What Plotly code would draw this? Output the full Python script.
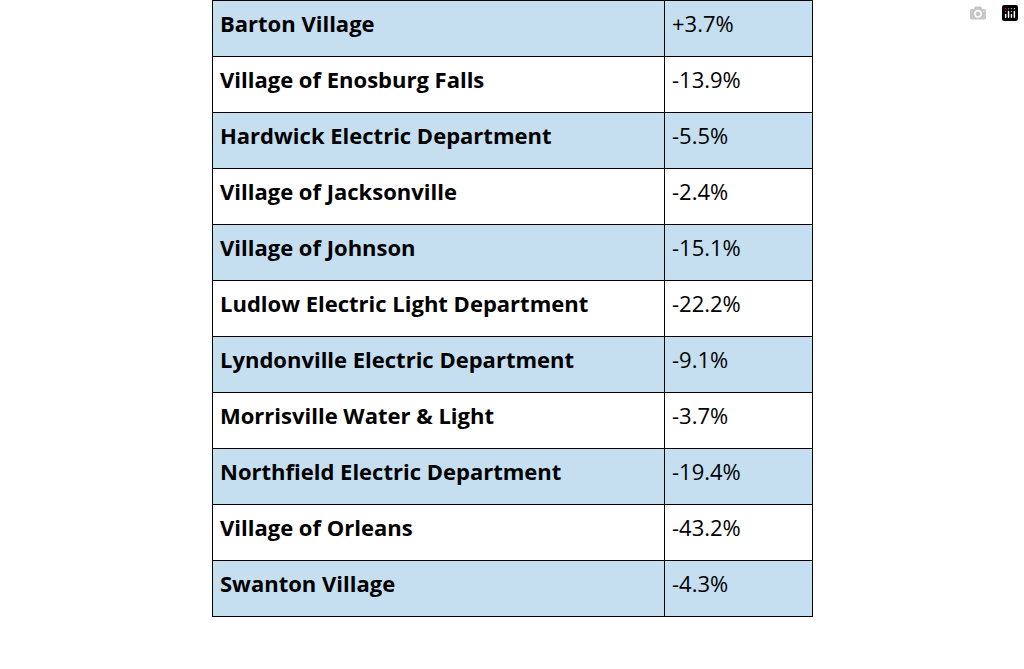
import plotly.graph_objects as go

names = ["Barton Village", "Village of Enosburg Falls", "Hardwick Electric Department",
         "Village of Jacksonville", "Village of Johnson", "Ludlow Electric Light Department",
         "Lyndonville Electric Department", "Morrisville Water & Light",
         "Northfield Electric Department", "Village of Orleans", "Swanton Village"]
changes = ["+3.7%", "-13.9%", "-5.5%", "-2.4%", "-15.1%", "-22.2%", "-9.1%", "-3.7%",
           "-19.4%", "-43.2%", "-4.3%"]

blue = "#c5dff1"
fills = [blue if i % 2 == 0 else "white" for i in range(1, len(names))]
fnt = dict(family="Open Sans", size=22, color="black")

fig = go.Figure(go.Table(
    columnwidth=[452, 148],
    domain=dict(x=[212/1024, 812/1024], y=[0, 1]),
    header=dict(values=["<b>" + names[0] + "</b>", "<span>" + changes[0] + "</span>"],
                fill_color=blue, line=dict(color="black", width=1),
                align="left", height=56, font=fnt),
    cells=dict(values=[["<b>" + n + "</b>" for n in names[1:]],
                       ["<span>" + c + "</span>" for c in changes[1:]]],
               fill_color=[fills, fills], line=dict(color="black", width=1),
               align="left", height=56, font=fnt),
))
fig.update_layout(width=1024, height=669, margin=dict(l=0, r=0, t=0, b=0),
                  paper_bgcolor="white")
fig.write_html("out.html", post_script="document.body.style.margin='0';")
